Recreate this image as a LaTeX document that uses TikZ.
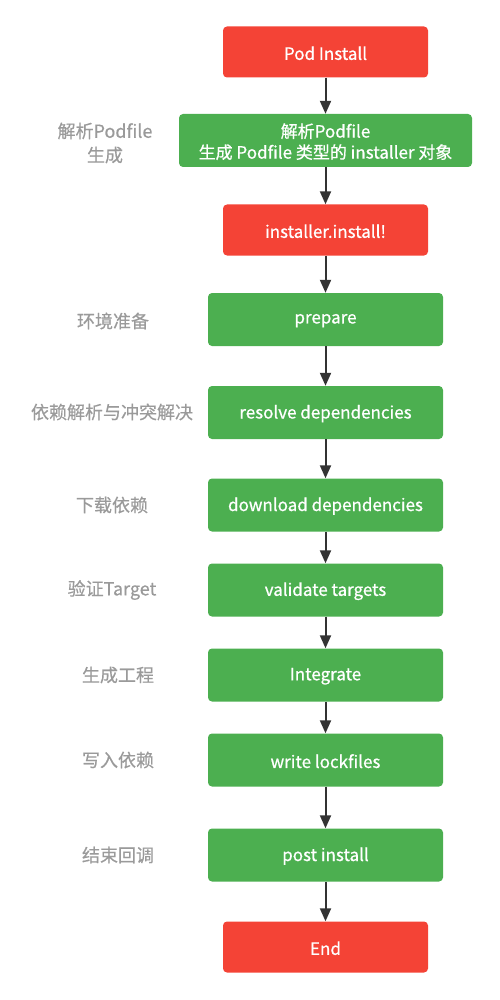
\documentclass[tikz,border=0pt]{standalone}
\usepackage{fontspec}
\setmainfont{Noto Sans CJK SC}
\newfontfamily\boxfont[FakeBold=0.7]{Noto Sans CJK SC}
\newfontfamily\sidefont[FakeBold=0.5]{Noto Sans CJK SC}
\usetikzlibrary{arrows.meta}
\definecolor{myred}{HTML}{F44336}
\definecolor{mygreen}{HTML}{4CAF50}
\definecolor{labelgray}{HTML}{9A9A9A}
\definecolor{arrowc}{HTML}{333333}
\tikzset{
  boxtext/.style={text=white, font=\boxfont\fontsize{17}{21}\selectfont, align=center, inner sep=0pt, yshift=-1.2pt},
  boxbase/.style={rounded corners=4pt, inner sep=0pt, minimum height=51pt},
  redbox/.style={boxbase, fill=myred, minimum width=205pt, label={[boxtext]center:{#1}}},
  greenbox/.style={boxbase, fill=mygreen, minimum width=235pt, minimum height=53pt, label={[boxtext]center:{#1}}},
  sidelabel/.style={text=labelgray, font=\sidefont\fontsize{18}{24}\selectfont, align=center},
  flow/.style={draw=arrowc, line width=2pt, -{Triangle[length=13pt,width=11pt]}}
}
\begin{document}
\begin{tikzpicture}[x=1pt,y=-1pt]
\useasboundingbox (0,0) rectangle (500,1000);
\node[redbox={Pod Install}] (pod) at (325.5,52) {};
\node[greenbox={解析Podfile\\生成 Podfile 类型的 installer 对象}, minimum width=293pt] (parse) at (325.5,140.5) {};
\node[redbox={installer.install!}] (inst) at (325.5,230) {};
\node[greenbox={prepare}] (prep) at (325.5,319.5) {};
\node[greenbox={resolve dependencies}] (res) at (325.5,412.5) {};
\node[greenbox={download dependencies}] (down) at (325.5,505) {};
\node[greenbox={validate targets}] (val) at (325.5,590) {};
\node[greenbox={Integrate}] (integ) at (325.5,675) {};
\node[greenbox={write lockfiles}] (lock) at (325.5,760) {};
\node[greenbox={post install}] (post) at (325.5,855) {};
\node[redbox={End}] (end) at (325.5,947) {};

\node[sidelabel] (l1) at (105,143) {解析Podfile\\生成};
\node[sidelabel] (l2) at (113,321) {环境准备};
\node[sidelabel] (l3) at (112,412) {依赖解析与冲突解决};
\node[sidelabel] (l4) at (112,505) {下载依赖};
\node[sidelabel] (l5) at (112,590) {验证Target};
\node[sidelabel] (l6) at (118,675) {生成工程};
\node[sidelabel] (l7) at (118,760) {写入依赖};
\node[sidelabel] (l8) at (118,855) {结束回调};

\draw[flow] (pod) -- (parse);
\draw[flow] (parse) -- (inst);
\draw[flow] (inst) -- (prep);
\draw[flow] (prep) -- (res);
\draw[flow] (res) -- (down);
\draw[flow] (down) -- (val);
\draw[flow] (val) -- (integ);
\draw[flow] (integ) -- (lock);
\draw[flow] (lock) -- (post);
\draw[flow] (post) -- (end);
\end{tikzpicture}
\end{document}
